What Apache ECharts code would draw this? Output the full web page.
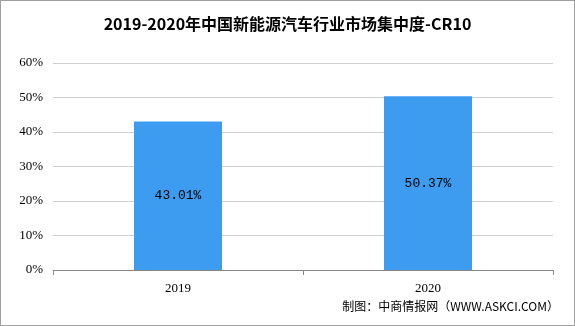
<!DOCTYPE html>
<html><head><meta charset="utf-8">
<script src="https://cdn.jsdelivr.net/npm/echarts@6/dist/echarts.min.js"></script>
<style>html,body{margin:0;padding:0;background:#fff}#c{width:573px;height:324px;border:1px solid #a0a0a0}</style>
</head><body><div id="c"></div>
<script>
const categories = ['2019', '2020'];
const values = [43.01, 50.37];
const yTicks = [0, 10, 20, 30, 40, 50, 60];
const titleText = '2019-2020年中国新能源汽车行业市场集中度-CR10';
const sourceText = '制图：中商情报网（WWW.ASKCI.COM）';

const chart = echarts.init(document.getElementById('c'));
chart.setOption({
  animation: false,
  title: [{
    text: titleText, left: 'center', top: 10,
    textStyle: {fontFamily: 'Noto Sans CJK SC', fontWeight: 'bold', fontSize: 16, color: '#000'}
  }, {
    text: sourceText, right: 10, bottom: 8,
    textStyle: {fontFamily: 'Noto Sans CJK SC', fontWeight: 'normal', fontSize: 12, color: '#000'}
  }],
  grid: {left: 52, right: 21, top: 62, bottom: 55},
  xAxis: {
    type: 'category', data: categories,
    axisLine: {lineStyle: {color: '#888'}},
    axisTick: {show: true, alignWithLabel: false, lineStyle: {color: '#888'}},
    axisLabel: {color: '#000', fontSize: 13, margin: 12, fontFamily: 'Liberation Serif'}
  },
  yAxis: {
    type: 'value', min: yTicks[0], max: yTicks[yTicks.length - 1], interval: 10,
    axisLine: {show: false}, axisTick: {show: false},
    axisLabel: {formatter: '{value}%', color: '#000', fontSize: 13, margin: 10, fontFamily: 'Liberation Serif'},
    splitLine: {lineStyle: {color: '#d0d0d0'}}
  },
  series: [{
    type: 'bar', data: values, barWidth: 88,
    itemStyle: {color: '#3E9CF0'},
    label: {show: true, position: 'inside', formatter: p => p.value.toFixed(2) + '%',
      color: '#000', fontSize: 13, fontFamily: 'Liberation Mono'}
  }]
});
</script></body></html>
